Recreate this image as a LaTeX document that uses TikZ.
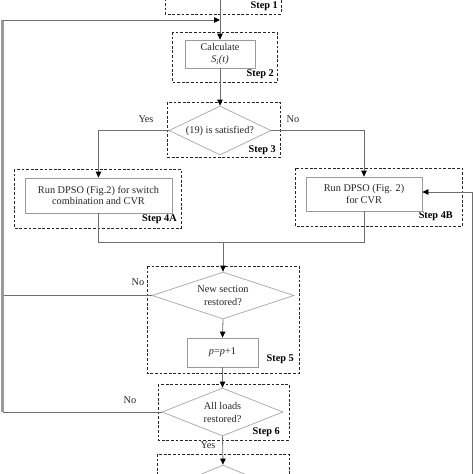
\documentclass[tikz,border=0pt]{standalone}
\usepackage{fontspec}
\setmainfont{Liberation Serif}
\usetikzlibrary{shapes.geometric,arrows.meta}
\definecolor{conncol}{HTML}{6E6E6E}
\definecolor{boxcol}{HTML}{9A9A9A}
\definecolor{txtcol}{HTML}{262626}
\tikzset{
  dashbox/.style={draw=black!85,line width=0.9pt,dash pattern=on 2.8pt off 1.8pt},
  inbox/.style={draw=boxcol,line width=0.8pt,rectangle,inner sep=0pt,font=\fontsize{10.3}{11.8}\selectfont,text=txtcol,align=center},
  dia/.style={draw=boxcol!80,line width=0.8pt,diamond,inner sep=0pt},
  txt/.style={font=\fontsize{10.3}{13}\selectfont,text=txtcol,align=center,inner sep=0pt},
  steplab/.style={font=\bfseries\fontsize{10.3}{11}\selectfont,anchor=south east,inner sep=0pt},
  conn/.style={draw=conncol,line width=0.8pt},
  arr/.style={conn,-{Triangle[length=6pt,width=5.5pt,color=black]}},
  thick gray/.style={draw=boxcol,line width=2.2pt}
}
\begin{document}
\begin{tikzpicture}[x=1pt,y=-1pt]
\useasboundingbox (0,0) rectangle (474,474);
\clip (0,0) rectangle (474,474);
% dashed step frames
\draw[dashbox] (165,-20) rectangle (281,14);
\node[steplab] (l1) at (278,11) {Step 1};
\draw[dashbox] (172,32) rectangle (277,82);
\node[steplab] (l2) at (274,79) {Step 2};
\draw[dashbox] (167,102) rectangle (280,157);
\node[steplab] (l3) at (276,155) {Step 3};
\draw[dashbox] (14,169) rectangle (181,228);
\node[steplab] (l4a) at (177,224) {Step 4A};
\draw[dashbox] (295,168) rectangle (462,226);
\node[steplab] (l4b) at (453,221) {Step 4B};
\draw[dashbox] (147,266) rectangle (299,373);
\node[steplab] (l5) at (294,364) {Step 5};
\draw[dashbox] (158,384) rectangle (289,440);
\node[steplab] (l6) at (280,437) {Step 6};
\draw[dashbox] (157,454) rectangle (289,520);
% inner shapes
\coordinate (top) at (220,-20);
\node[inbox,minimum width=70pt,minimum height=28pt] (b2) at (220,54) {Calculate\\[1pt]\textit{S}\textsubscript{\textit{i}}\textit{(t)}};
\node[dia,minimum width=102pt,minimum height=49pt] (d3) at (220,130.5) {};
\node[txt] (t3) at (d3) {(19) is satisfied?};
\node[inbox,minimum width=147pt,minimum height=35pt] (b4a) at (98.5,195.5) {Run DPSO (Fig.2) for switch\\combination and CVR};
\node[inbox,minimum width=116pt,minimum height=34pt] (b4b) at (364,194) {Run DPSO (Fig. 2)\\for CVR};
\node[dia,minimum width=142pt,minimum height=47pt] (d5) at (223,295.5) {};
\node[txt] (t5) at (d5) {New section\\restored?};
\node[inbox,minimum width=71pt,minimum height=29pt] (b5) at (222.5,352.5) {\textit{p}=\textit{p}+1};
\node[dia,minimum width=121pt,minimum height=48pt] (d6) at (222.5,412) {};
\node[txt] (t6) at (d6) {All loads\\restored?};
\node[dia,minimum width=120pt,minimum height=50pt] (d7) at (223,490) {};
% connector helper points
\coordinate (fb) at (220,20);
\coordinate (ltop) at (2.5,20);
\coordinate (l5) at (2.5,295.5);
\coordinate (l6) at (2.5,412);
\coordinate (ma) at (98.5,242);
\coordinate (mb) at (364,242);
\coordinate (mc) at (223,242);
\coordinate (rbot) at (472,520);
\coordinate (rtop) at (472,192);
% connectors
\draw[arr] (top) -- (b2.north);
\draw[arr] (b2.south) -- (d3.north);
\draw[arr] (d3.west) -| (b4a.north);
\draw[arr] (d3.east) -| (b4b.north);
\draw[conn] (b4a.south) -- (ma) -- (mb) -- (b4b.south);
\draw[arr] (mc) -- (d5.north);
\draw[arr] (d5.south) -- (b5.north);
\draw[arr] (b5.south) -- (d6.north);
\draw[arr] (d6.south) -- (d7.north);
\draw[conn] (d5.west) -- (l5);
\draw[conn] (d6.west) -- (l6);
\draw[thick gray] (l6) -- (ltop);
\draw[arr] (ltop) -- (fb);
\draw[conn] (rbot) -- (rtop);
\draw[arr] (rtop) -- (b4b.east |- rtop);
% labels
\node[txt] (y3) at (146,119) {Yes};
\node[txt] (n3) at (293,119) {No};
\node[txt] (n5) at (138,282) {No};
\node[txt] (n6) at (130,400) {No};
\node[txt] (y6) at (208,445) {Yes};
\end{tikzpicture}
\end{document}
